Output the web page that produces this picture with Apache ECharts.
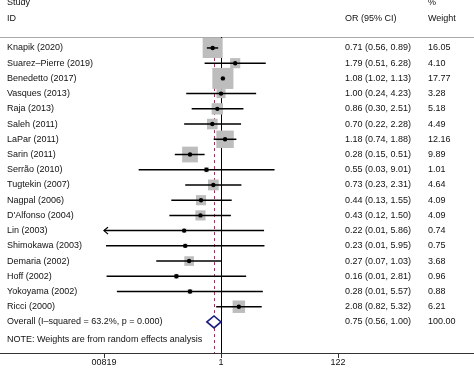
<!DOCTYPE html>
<html>
<head>
<meta charset="utf-8">
<script src="https://cdn.jsdelivr.net/npm/echarts@6/dist/echarts.min.js"></script>
<style>
html,body{margin:0;padding:0;background:#fff;}
#chart{width:474px;height:368px;}
</style>
</head>
<body>
<div id="chart"></div>
<script>
// ---- data ----
var studies = ["Knapik (2020)","Suarez–Pierre (2019)","Benedetto (2017)","Vasques (2013)","Raja (2013)","Saleh (2011)","LaPar (2011)","Sarin (2011)","Serrão (2010)","Tugtekin (2007)","Nagpal (2006)","D'Alfonso (2004)","Lin (2003)","Shimokawa (2003)","Demaria (2002)","Hoff (2002)","Yokoyama (2002)","Ricci (2000)"];
var orValues = [0.71,1.79,1.08,1.00,0.86,0.70,1.18,0.28,0.55,0.73,0.44,0.43,0.22,0.23,0.27,0.16,0.28,2.08];
var lowerCI  = [0.56,0.51,1.02,0.24,0.30,0.22,0.74,0.15,0.034,0.23,0.13,0.12,0.008,0.0089,0.07,0.0091,0.0139,0.82];
var upperCI  = [0.89,6.28,1.13,4.23,2.51,2.28,1.88,0.51,9.01,2.31,1.55,1.50,5.86,5.95,1.03,2.81,5.57,5.32];
var weights  = [16.05,4.10,17.77,3.28,5.18,4.49,12.16,9.89,1.01,4.64,4.09,4.09,0.74,0.75,3.68,0.96,0.88,6.21];
var overallLabel = "Overall (I–squared = 63.2%, p = 0.000)";
var overall = {or:0.75, lo:0.56, hi:1.00, weight:100.00};
var nullValue = 1;
var tickValues = [0.00819, 1, 122];
var tickLabels = ["00819", "1", "122"];

var FONT = "'Liberation Sans', Arial, sans-serif";
var xMin = 0.00819, xMax = 122;
var yMin = -0.72, yMax = 20.04;

function fmtCI(o,l,h){ return o.toFixed(2)+" ("+l.toFixed(2)+", "+h.toFixed(2)+")"; }

var rows = studies.map(function(s,i){ return [i]; });

var chart = echarts.init(document.getElementById('chart'), null, {renderer:'canvas'});

function txt(x,y,s){
  return {type:'text', style:{x:x, y:y, text:s, fill:'#111', font:'9px '+FONT, textVerticalAlign:'middle', textAlign:'left'}};
}

chart.setOption({
  animation:false,
  grid:{left:104, right:136, top:37, bottom:15, containLabel:false},
  xAxis:{
    type:'log', logBase:10, min:xMin, max:xMax, position:'bottom',
    axisLine:{show:false, onZero:false},
    splitLine:{show:false},
    axisTick:{show:true, length:5, customValues:tickValues, lineStyle:{color:'#333', width:1}},
    axisLabel:{show:true, margin:5, customValues:tickValues, color:'#111', fontSize:9, fontFamily:FONT,
      formatter:function(v){
        var best=0, bd=1e9;
        for(var k=0;k<tickValues.length;k++){var d=Math.abs(Math.log(v)-Math.log(tickValues[k])); if(d<bd){bd=d;best=k;}}
        return tickLabels[best];
      }}
  },
  yAxis:{type:'value', inverse:true, min:yMin, max:yMax, show:false},
  graphic:[
    {type:'text', left:7, top:-2, style:{text:'Study', fill:'#111', font:'9px '+FONT}},
    {type:'text', left:7, top:14, style:{text:'ID', fill:'#111', font:'9px '+FONT}},
    {type:'text', left:345, top:14, style:{text:'OR (95% CI)', fill:'#111', font:'9px '+FONT}},
    {type:'text', left:428, top:-2, style:{text:'%', fill:'#111', font:'9px '+FONT}},
    {type:'text', left:428, top:14, style:{text:'Weight', fill:'#111', font:'9px '+FONT}},
    {type:'line', shape:{x1:0,y1:37.5,x2:474,y2:37.5}, style:{stroke:'#aaa', lineWidth:1}},
    {type:'text', left:7, top:335, style:{text:'NOTE: Weights are from random effects analysis', fill:'#111', font:'9px '+FONT}},
    {type:'line', shape:{x1:0,y1:353.5,x2:474,y2:353.5}, style:{stroke:'#333', lineWidth:1}}
  ],
  series:[
    {
      type:'custom', z:1, clip:false, silent:true,
      data:[[0]],
      renderItem:function(params, api){
        var a = api.coord([nullValue, yMin]), b = api.coord([nullValue, yMax]);
        var c = api.coord([overall.or, yMin+0.2]), d = api.coord([overall.or, yMax]);
        var xa = Math.round(a[0])+0.5, xc = Math.round(c[0])+0.5;
        return {type:'group', children:[
          {type:'line', shape:{x1:xa, y1:a[1], x2:xa, y2:b[1]}, style:{stroke:'#000', lineWidth:1}},
          {type:'line', shape:{x1:xc, y1:c[1], x2:xc, y2:d[1]}, style:{stroke:'#a0305a', lineWidth:1, lineDash:[3,3]}}
        ]};
      }
    },
    {
      type:'custom', z:3, clip:false, silent:true,
      data:rows,
      renderItem:function(params, api){
        var i = api.value(0);
        var pO = api.coord([orValues[i], i]);
        var lo = Math.max(lowerCI[i], xMin);
        var pL = api.coord([lo, i]);
        var pH = api.coord([upperCI[i], i]);
        var side = 5*Math.sqrt(weights[i]);
        var y = pO[1];
        var ch = [
          {type:'rect', shape:{x:pO[0]-side/2, y:y-side/2, width:side, height:side}, style:{fill:'#bdbdbd'}},
          {type:'line', shape:{x1:pL[0], y1:y, x2:pH[0], y2:y}, style:{stroke:'#000', lineWidth:1.5}},
          {type:'circle', shape:{cx:pO[0], cy:y, r:2.2}, style:{fill:'#000'}},
          txt(7, y, studies[i]),
          txt(345, y, fmtCI(orValues[i], lowerCI[i], upperCI[i])),
          txt(428, y, weights[i].toFixed(2))
        ];
        if(lowerCI[i] < xMin){
          ch.push({type:'polyline', shape:{points:[[pL[0]+4,y-3.5],[pL[0],y],[pL[0]+4,y+3.5]]}, style:{stroke:'#000', lineWidth:1.3, fill:null}});
        }
        return {type:'group', children:ch};
      }
    },
    {
      type:'custom', z:4, clip:false, silent:true,
      data:[[18]],
      renderItem:function(params, api){
        var r = api.value(0);
        var pO = api.coord([overall.or, r]);
        var pL = api.coord([overall.lo, r]);
        var pH = api.coord([overall.hi, r]);
        var y = pO[1], h = 6;
        return {type:'group', children:[
          {type:'polygon', shape:{points:[[pL[0],y],[pO[0],y-h],[pH[0],y],[pO[0],y+h]]}, style:{fill:'#fff', stroke:'#1a1a80', lineWidth:1.6}},
          txt(7, y, overallLabel),
          txt(345, y, fmtCI(overall.or, overall.lo, overall.hi)),
          txt(428, y, overall.weight.toFixed(2))
        ]};
      }
    }
  ]
});
</script>
</body>
</html>
